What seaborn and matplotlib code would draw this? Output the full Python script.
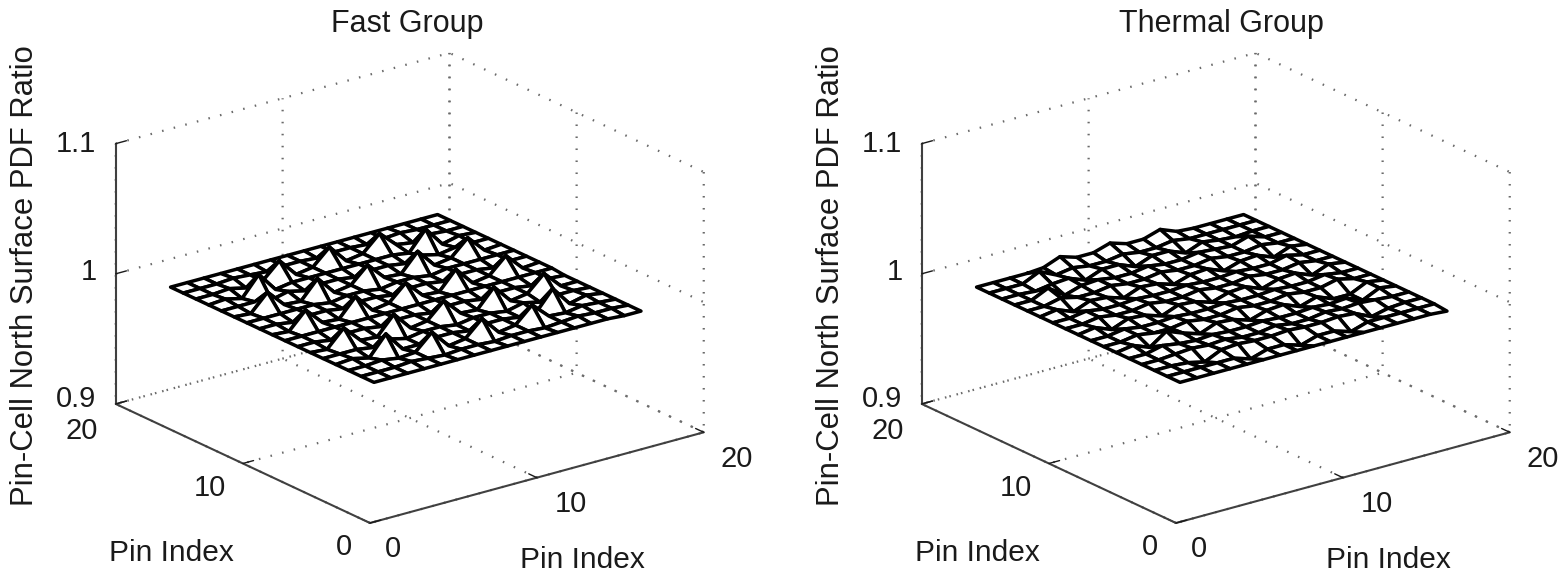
import numpy as np
import matplotlib
matplotlib.use("Agg")
import matplotlib.pyplot as plt
from matplotlib.transforms import ScaledTranslation
import seaborn as sns
from mpl_toolkits.mplot3d import proj3d

W, H = 1560, 581
TITLES = ["Fast Group", "Thermal Group"]
XLABEL = "Pin Index"
ZLABEL = "Pin-Cell North Surface PDF Ratio"
AXIS_TICKS = [0, 10, 20]
Z_TICKS = [0.9, 1.0, 1.1]
Z_TICK_LABELS = ["0.9", "1", "1.1"]
PIN_INDEX = list(range(1, 18))

FAST = [
[1.000,1.000,1.000,1.000,1.000,1.000,1.000,1.000,1.000,1.000,1.000,1.000,1.000,1.000,1.000,0.999,0.999],
[1.000,1.000,1.000,1.001,1.000,0.999,1.000,1.000,0.999,1.000,1.000,0.999,1.000,1.001,1.000,1.000,0.999],
[1.000,1.000,1.001,0.999,1.000,1.012,0.998,1.000,1.012,0.998,1.000,1.012,1.000,0.999,1.001,1.000,0.999],
[1.000,1.001,0.998,1.013,0.998,0.998,1.000,1.000,0.998,1.000,1.000,0.998,0.998,1.013,0.998,1.001,0.999],
[1.000,1.000,1.000,0.998,1.001,0.998,1.000,1.000,0.998,1.000,1.000,0.998,1.001,0.998,1.000,1.000,0.999],
[1.000,0.999,1.012,0.999,0.998,1.012,0.998,1.000,1.012,0.999,0.998,1.012,0.998,1.000,1.012,0.999,0.999],
[1.000,1.000,0.998,1.000,1.000,0.998,1.000,1.000,0.998,1.000,1.000,0.998,1.000,1.000,0.998,1.000,0.999],
[1.000,1.000,1.000,1.000,1.000,1.000,1.000,1.000,1.000,1.000,1.000,1.000,1.000,1.000,1.000,1.000,1.000],
[1.000,0.999,1.012,0.999,0.998,1.012,0.998,1.000,1.012,0.999,0.998,1.012,0.998,1.000,1.012,0.999,1.000],
[1.000,1.000,0.998,1.000,1.000,0.998,1.000,1.000,0.998,1.000,1.000,0.998,1.000,1.000,0.998,1.000,1.000],
[1.000,1.000,1.000,1.000,1.000,0.998,1.000,1.000,0.998,1.000,1.000,0.998,1.000,1.000,1.000,1.000,1.000],
[1.000,0.999,1.012,0.999,0.998,1.012,0.998,1.000,1.012,0.999,0.998,1.012,0.998,1.000,1.012,0.999,1.000],
[1.000,1.000,1.000,0.998,1.001,0.998,1.000,1.000,0.998,1.000,1.000,0.998,1.001,0.998,1.000,1.000,1.000],
[1.000,1.001,0.998,1.013,0.998,1.000,1.000,1.000,1.000,1.000,1.000,1.000,0.998,1.013,0.998,1.001,1.000],
[1.000,1.000,1.001,0.998,1.000,1.012,0.998,1.000,1.012,0.998,1.000,1.012,1.000,0.998,1.001,1.000,1.000],
[1.000,1.000,1.000,1.001,1.000,0.999,1.000,1.000,0.999,1.000,1.000,0.999,1.000,1.001,1.000,1.000,1.000],
[1.000,1.000,1.000,1.000,1.000,1.000,1.000,1.000,1.000,1.000,1.000,1.000,1.000,1.000,1.000,1.000,1.000],
]

THERMAL = [
[1.000,1.000,1.000,1.000,1.000,1.000,1.000,1.000,1.000,1.000,1.000,1.000,1.000,1.000,1.000,1.000,0.999],
[1.000,1.000,1.000,1.000,1.000,0.996,1.000,1.000,0.996,1.000,1.000,0.996,1.000,1.000,1.000,1.000,1.000],
[1.000,1.000,0.999,0.996,1.002,1.003,1.002,1.002,1.003,1.002,1.002,1.003,1.002,0.996,0.999,1.000,1.000],
[1.000,1.000,1.001,1.002,1.001,1.002,1.000,1.000,1.002,1.000,1.000,1.002,1.001,1.002,1.001,1.000,1.000],
[1.000,1.000,1.003,1.001,1.000,1.001,1.000,1.000,1.001,1.000,1.000,1.001,1.000,1.001,0.996,1.002,1.000],
[1.000,1.002,0.997,1.006,1.001,0.997,1.002,1.001,0.997,1.001,1.002,0.997,1.001,0.996,0.996,1.002,1.000],
[1.000,1.000,1.002,1.000,1.000,1.002,1.000,1.000,1.002,1.000,1.000,1.002,1.000,1.000,1.003,1.000,1.000],
[1.000,1.000,1.002,1.000,1.000,1.001,1.000,1.000,1.001,1.000,1.000,1.001,1.000,1.000,1.002,1.000,1.000],
[1.000,1.002,0.997,1.002,1.001,0.997,1.002,1.001,0.997,1.001,1.002,0.997,1.001,1.002,0.997,1.002,1.000],
[1.000,1.000,1.002,1.000,1.000,1.002,1.000,1.000,1.002,1.000,1.000,1.002,1.000,1.000,1.002,1.000,1.000],
[1.000,1.000,1.002,1.000,1.000,1.001,1.000,1.000,1.001,1.000,1.000,1.001,1.000,1.000,1.003,1.000,1.000],
[1.000,1.002,0.997,1.002,1.001,0.997,1.002,1.001,0.997,1.001,1.002,0.997,1.001,1.002,0.997,1.002,1.000],
[1.000,1.000,1.003,1.000,1.000,1.002,1.000,1.000,1.002,1.000,1.000,1.002,1.000,1.000,1.002,1.000,1.000],
[1.000,1.000,1.006,0.997,1.001,1.002,1.000,1.000,1.002,1.000,1.000,1.002,1.001,1.000,1.004,1.000,1.000],
[1.000,1.000,0.999,1.001,1.002,0.997,1.002,1.002,0.997,1.002,1.002,0.997,1.002,1.000,0.999,1.000,1.000],
[1.000,1.000,1.000,1.006,1.000,1.002,1.000,1.000,1.002,1.000,1.000,1.002,1.000,1.000,1.000,1.000,1.000],
[1.000,1.000,1.000,1.000,1.001,1.006,1.002,1.002,1.006,1.002,1.002,1.006,1.001,1.000,1.000,1.000,1.000],
]

sns.set_theme(style="white", font="Liberation Sans", rc={
    "grid.linestyle": (0, (0.7, 4.7)),
    "grid.linewidth": 1.6,
    "grid.color": "#6a6a6a",
    "axes.grid": True,
    "axes.edgecolor": "#404040",
    "text.color": "#1a1a1a",
    "xtick.color": "#1a1a1a",
    "ytick.color": "#1a1a1a",
    "axes.labelcolor": "#1a1a1a",
})
plt.rcParams["font.family"] = ["Liberation Sans", "DejaVu Sans"]
FS_TICK = 21
FS_PIN = 21.5
FS_Z = 22.3
FS_TITLE = 22

fig = plt.figure(figsize=(W / 100, H / 100), dpi=100)


def to_px(ax, x, y, z):
    px, py, _ = proj3d.proj_transform(x, y, z, ax.get_proj())
    d = ax.transData.transform((px, py))
    return d[0], H - d[1]


def place(ax, S, left, bottom):
    ax.set_position([left / W, bottom / H, S / W, S / H])
    ax.apply_aspect()


def nudge(ax, text, dx, dy):
    # Axis3D resets the transforms of its texts when it draws, so pin the lookup
    shifted = ax.transData + ScaledTranslation(dx / 100, -dy / 100, fig.dpi_scale_trans)
    text.get_transform = lambda: shifted


def panel(data, title, dx, title_x):
    ax = fig.add_axes([0.1, 0.1, 0.4, 0.4 * W / H], projection="3d", proj_type="ortho")
    ax.view_init(elev=20.9, azim=-127.3)
    ax.set_box_aspect((418.6, 418.6, 278))
    ax.set_xlim(0, 20, view_margin=0)
    ax.set_ylim(0, 20, view_margin=0)
    ax.set_zlim(0.9, 1.1, view_margin=0)
    X, Y = np.meshgrid(PIN_INDEX, PIN_INDEX)
    ax.plot_surface(X, Y, np.array(data), rcount=17, ccount=17, color="white",
                    edgecolor="black", linewidth=2.5, shade=False, antialiased=True)
    ax.set_xticks(AXIS_TICKS)
    ax.set_yticks(AXIS_TICKS)
    ax.set_zticks(Z_TICKS)
    ax.set_zticklabels(Z_TICK_LABELS)
    ax.tick_params(labelsize=FS_TICK)
    ax.tick_params(axis="x", pad=10)
    ax.tick_params(axis="y", pad=10)
    ax.tick_params(axis="z", pad=12)
    for axis in (ax.xaxis, ax.yaxis, ax.zaxis):
        axis.set_pane_color((1, 1, 1, 0))
        axis.pane.set_edgecolor((1, 1, 1, 0))
        axis.line.set_color("#404040")
        axis.line.set_linewidth(1.5)
        axis._axinfo["tick"]["outward_factor"] = 0.4
        axis._axinfo["tick"]["inward_factor"] = 0.0
        axis._axinfo["tick"]["linewidth"] = {True: 1.0, False: 0.5}
        axis._axinfo["tick"]["color"] = "#404040"
    ax.set_xlabel(XLABEL, fontsize=FS_PIN, labelpad=22, rotation=0)
    ax.set_ylabel(XLABEL, fontsize=FS_PIN, labelpad=22, rotation=0)
    ax.xaxis.set_rotate_label(False)
    ax.yaxis.set_rotate_label(False)
    ax.zaxis.set_rotate_label(False)
    ax.set_zlabel(ZLABEL, fontsize=FS_Z, labelpad=26, rotation=90)

    S = 0.4 * W
    place(ax, S, 100, 50)
    xl = to_px(ax, 0, 20, 0.9)
    xr = to_px(ax, 20, 0, 0.9)
    S = S * (703 - 115) / (xr[0] - xl[0])
    place(ax, S, 100, 50)
    f = to_px(ax, 0, 0, 0.9)
    left = 100 + (370 + dx - f[0])
    bottom = 50 - (523 - f[1])
    place(ax, S, left, bottom)
    tx = (title_x - left) / S
    ty = ((H - 32) - bottom) / S / 0.92
    ax.set_title(title, fontsize=FS_TITLE, x=tx, y=ty, va="center")

    # fine placement of tick labels and axis labels, in pixels (right, down)
    for tick, off in zip(ax.xaxis.get_major_ticks(), [(4, -17), (15, -16), (14, -16)]):
        nudge(ax, tick.label1, *off)
    for tick, off in zip(ax.yaxis.get_major_ticks(), [(-1, -16), (-8, -16), (-9, -13)]):
        nudge(ax, tick.label1, *off)
    for tick, off in zip(ax.zaxis.get_major_ticks(), [(10, -17), (22, -13), (9, -11)]):
        nudge(ax, tick.label1, *off)
    nudge(ax, ax.xaxis.label, 0, 14)
    nudge(ax, ax.yaxis.label, -11, 26)
    nudge(ax, ax.zaxis.label, 25, 7)
    return ax


panel(FAST, TITLES[0], 0, 407)
panel(THERMAL, TITLES[1], 806, 1221)
fig.savefig("out.png", dpi=100)
